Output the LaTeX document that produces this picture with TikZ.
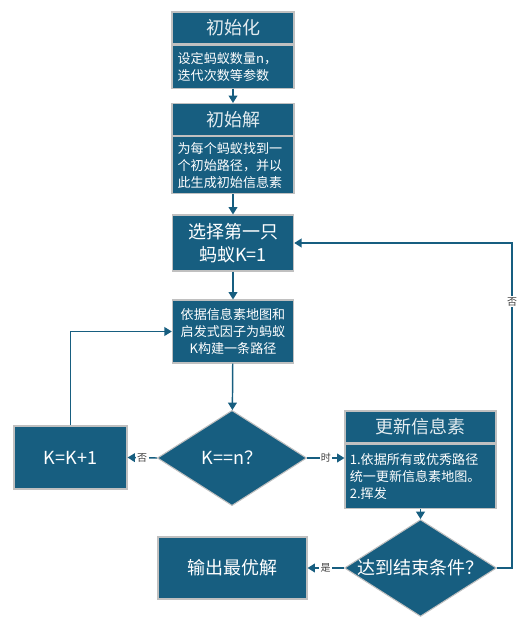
\documentclass[tikz,border=0pt]{standalone}
\usepackage{fontspec}
\setmainfont{Noto Sans CJK SC}
\usepackage{xcolor}
\usepackage{tikz}
\usetikzlibrary{shapes.geometric,arrows.meta,positioning}
\definecolor{antblue}{RGB}{23,94,128}
\definecolor{edgegray}{RGB}{192,192,192}

\begin{document}
\begin{tikzpicture}[x=0.75pt, y=-0.75pt,
                          box/.style={draw=edgegray, line width=0.8pt, fill=antblue, text=white, inner sep=0pt},
                          head/.style={box, text=white!88!antblue, minimum width=91.5pt, minimum height=24pt, font=\fontsize{13.5}{15}\selectfont},
                          body/.style={box, minimum width=91.5pt, text width=83pt, align=left, font=\fontsize{9.8}{12.75}\selectfont},
                          decide/.style={box, diamond, aspect=1.57, font=\fontsize{13.5}{15}\selectfont},
                          flow/.style={draw=antblue, line width=1.1pt, -{Triangle[length=5.5pt,width=6.5pt]}},
                          lbl/.style={fill=white, inner sep=1pt, text=black!75, font=\fontsize{7.5}{9}\selectfont},
                         ]

\useasboundingbox (0,0) rectangle (529,622);

% initialisation
\node[head] (inithead) at (233,28) {初始化};
\node[body, minimum height=32.25pt, below=0pt of inithead] (initbody) {设定蚂蚁数量n，\\迭代次数等参数};

% initial solution
\node[head] (solvehead) at (233,119.5) {初始解};
\node[body, minimum height=42.75pt, below=0pt of solvehead] (solvebody) {为每个蚂蚁找到一\\个初始路径，并以\\此生成初始信息素};

% ant loop
\node[box, minimum width=91pt, minimum height=42pt, align=center, font=\fontsize{13.5}{17}\selectfont] (pick) at (233,243) {选择第一只\\蚂蚁K=1};
\node[box, minimum width=91pt, minimum height=47.25pt, align=center, font=\fontsize{9.8}{12.75}\selectfont] (build) at (233,331.5) {依据信息素地图和\\启发式因子为蚂蚁\\K构建一条路径};
\node[decide, minimum width=112pt, minimum height=71.5pt] (check) at (232,458) {K==n？};
\node[box, minimum width=84.75pt, minimum height=47.25pt, font=\fontsize{13.5}{15}\selectfont] (kinc) at (70.5,457.5) {K=K+1};

% update
\node[head, minimum width=113.25pt] (updhead) at (420.5,427) {更新信息素};
\node[body, minimum width=113.25pt, text width=106pt, minimum height=48pt, below=0pt of updhead] (updbody) {1.依据所有或优秀路径\\统一更新信息素地图。\\2.挥发};

% stop test
\node[decide, minimum width=111pt, minimum height=71.5pt] (stop) at (420.5,568) {达到结束条件？};
\node[box, minimum width=111.75pt, minimum height=46.5pt, font=\fontsize{13.5}{15}\selectfont] (result) at (232.5,568) {输出最优解};

\coordinate (rturn) at (512,568);

\draw[flow] (initbody) -- (solvehead);
\draw[flow] (solvebody) -- (pick);
\draw[flow] (pick) -- (build);
\draw[flow] (build) -- (check);
\draw[flow] (check.west) -- node[lbl]{否} (kinc.east);
\draw[flow] (kinc.north) |- (build.west);
\draw[flow] (check.east) -- node[lbl]{时} (check.east -| updbody.west);
\draw[flow] (updbody) -- (stop);
\draw[flow] (stop.west) -- node[lbl]{是} (result.east);
\draw[flow] (stop.east) -- (rturn) -- node[lbl, pos=0.82]{否} (rturn |- pick.east) -- (pick.east);

\end{tikzpicture}
\end{document}
